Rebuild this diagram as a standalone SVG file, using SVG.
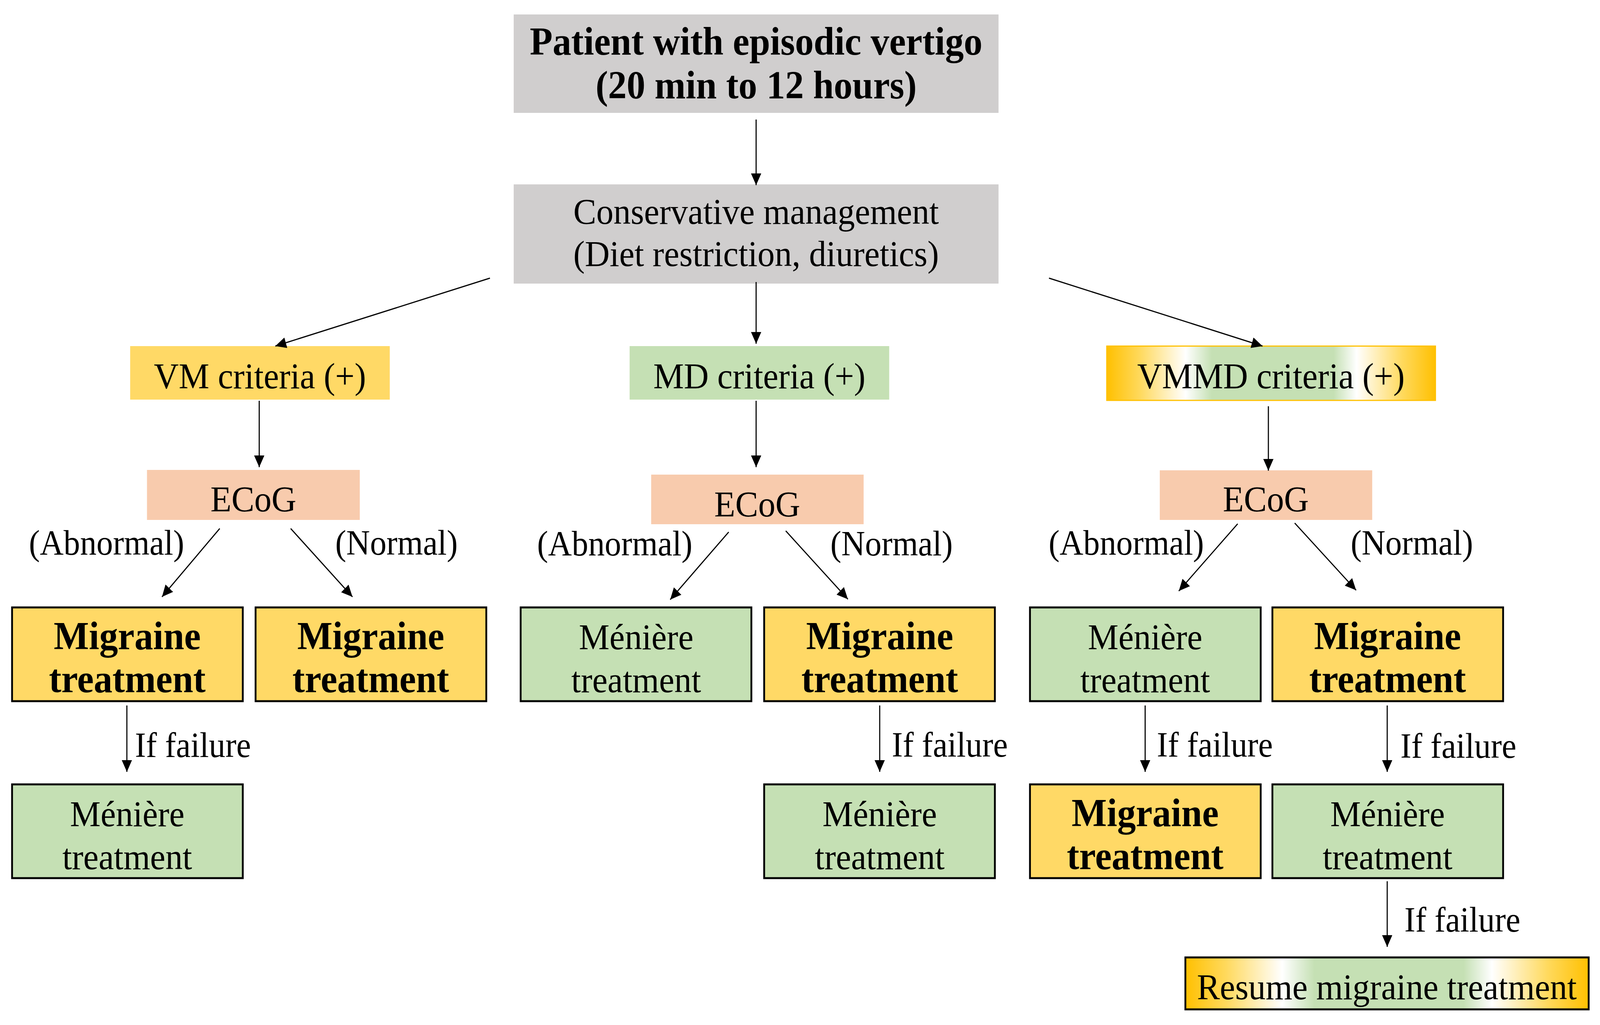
<svg xmlns="http://www.w3.org/2000/svg" width="4376" height="2624" viewBox="0 0 4376 2624" preserveAspectRatio="none">
<defs>
<style>
svg{width:100vw;height:100vh}
text{font-family:"Liberation Serif","Times New Roman",serif;fill:#000}
.n{font-size:94px;text-anchor:middle}
.b{font-size:102px;font-weight:bold;text-anchor:middle}
.l{font-size:90px}
.gray{fill:#d0cece}
.yel{fill:#ffd966}
.grn{fill:#c5e0b4}
.peach{fill:#f8cbad}
.bx{stroke:#000;stroke-width:5}
.c line{stroke:#000;stroke-width:3;marker-end:url(#ah)}
</style>
<marker id="ah" markerUnits="userSpaceOnUse" markerWidth="32" markerHeight="30" refX="30" refY="14" orient="auto">
<path d="M0,0 L30,14 L0,28 z" fill="#000"/>
</marker>
<linearGradient id="mix" x1="0" y1="0" x2="1" y2="0">
<stop offset="0" stop-color="#ffc000"/>
<stop offset="0.1" stop-color="#ffd95c"/>
<stop offset="0.24" stop-color="#ffffff"/>
<stop offset="0.32" stop-color="#c5e0b4"/>
<stop offset="0.69" stop-color="#c5e0b4"/>
<stop offset="0.76" stop-color="#ffffff"/>
<stop offset="0.9" stop-color="#ffd95c"/>
<stop offset="1" stop-color="#ffc000"/>
</linearGradient>
</defs>
<rect width="4376" height="2624" fill="#fff"/>

<g id="n-patient">
<rect class="gray" x="1405" y="37" width="1326" height="252"/>
<text class="b" x="2068" y="140">Patient with episodic vertigo</text>
<text class="b" x="2068" y="252">(20 min to 12 hours)</text>
</g>
<g id="n-conservative">
<rect class="gray" x="1405" y="472" width="1326" height="254"/>
<text class="n" x="2068" y="573">Conservative management</text>
<text class="n" x="2068" y="681">(Diet restriction, diuretics)</text>
</g>
<g id="n-vm">
<rect class="yel" x="356" y="886" width="710" height="137"/>
<text class="n" x="711" y="994">VM criteria (+)</text>
</g>
<g id="n-md">
<rect class="grn" x="1722" y="886" width="710" height="137"/>
<text class="n" x="2077" y="994">MD criteria (+)</text>
</g>
<g id="n-vmmd">
<rect x="3027" y="886" width="899" height="139" fill="url(#mix)" stroke="#ffc000" stroke-width="3"/>
<text class="n" x="3476" y="994">VMMD criteria (+)</text>
</g>
<g id="n-ecog-l">
<rect class="peach" x="402" y="1203" width="582" height="128"/>
<text class="n" x="693" y="1309">ECoG</text>
</g>
<g id="n-ecog-m">
<rect class="peach" x="1781" y="1215" width="581" height="127"/>
<text class="n" x="2071" y="1322">ECoG</text>
</g>
<g id="n-ecog-r">
<rect class="peach" x="3172" y="1204" width="581" height="127"/>
<text class="n" x="3462" y="1309">ECoG</text>
</g>

<g id="n-a1">
<rect class="yel bx" x="33" y="1555" width="631" height="240"/>
<text class="b" x="348" y="1662">Migraine</text>
<text class="b" x="348" y="1772">treatment</text>
</g>
<g id="n-b1">
<rect class="yel bx" x="699" y="1555" width="631" height="240"/>
<text class="b" x="1014" y="1662">Migraine</text>
<text class="b" x="1014" y="1772">treatment</text>
</g>
<g id="n-c1">
<rect class="grn bx" x="1424" y="1555" width="631" height="240"/>
<text class="n" x="1740" y="1662">Ménière</text>
<text class="n" x="1740" y="1772">treatment</text>
</g>
<g id="n-d1">
<rect class="yel bx" x="2090" y="1555" width="631" height="240"/>
<text class="b" x="2406" y="1662">Migraine</text>
<text class="b" x="2406" y="1772">treatment</text>
</g>
<g id="n-e1">
<rect class="grn bx" x="2817" y="1555" width="631" height="240"/>
<text class="n" x="3132" y="1662">Ménière</text>
<text class="n" x="3132" y="1772">treatment</text>
</g>
<g id="n-f1">
<rect class="yel bx" x="3480" y="1555" width="631" height="240"/>
<text class="b" x="3795" y="1662">Migraine</text>
<text class="b" x="3795" y="1772">treatment</text>
</g>

<g id="n-a2">
<rect class="grn bx" x="33" y="2008" width="631" height="240"/>
<text class="n" x="348" y="2115">Ménière</text>
<text class="n" x="348" y="2225">treatment</text>
</g>
<g id="n-d2">
<rect class="grn bx" x="2090" y="2008" width="631" height="240"/>
<text class="n" x="2406" y="2115">Ménière</text>
<text class="n" x="2406" y="2225">treatment</text>
</g>
<g id="n-e2">
<rect class="yel bx" x="2817" y="2008" width="631" height="240"/>
<text class="b" x="3132" y="2115">Migraine</text>
<text class="b" x="3132" y="2225">treatment</text>
</g>
<g id="n-f2">
<rect class="grn bx" x="3480" y="2008" width="631" height="240"/>
<text class="n" x="3795" y="2115">Ménière</text>
<text class="n" x="3795" y="2225">treatment</text>
</g>
<g id="n-resume">
<rect x="3242" y="2451" width="1103" height="133" fill="url(#mix)" stroke="#000" stroke-width="5"/>
<text class="n" x="3793" y="2558">Resume migraine treatment</text>
</g>

<g id="connectors" class="c">
<line x1="2068" y1="306" x2="2068" y2="474"/>
<line x1="1340" y1="712" x2="753" y2="886"/>
<line x1="2068" y1="722" x2="2068" y2="880"/>
<line x1="2869" y1="712" x2="3453" y2="886"/>
<line x1="709" y1="1026" x2="709" y2="1196"/>
<line x1="2068" y1="1026" x2="2068" y2="1196"/>
<line x1="3469" y1="1040" x2="3469" y2="1205"/>
<line x1="601" y1="1353" x2="443" y2="1528"/>
<line x1="795" y1="1353" x2="964" y2="1528"/>
<line x1="1993" y1="1362" x2="1833" y2="1535"/>
<line x1="2149" y1="1359" x2="2319" y2="1534"/>
<line x1="3385" y1="1341" x2="3224" y2="1513"/>
<line x1="3541" y1="1339" x2="3709" y2="1511"/>
<line x1="347" y1="1806" x2="347" y2="1976"/>
<line x1="2406" y1="1806" x2="2406" y2="1976"/>
<line x1="3132" y1="1806" x2="3132" y2="1976"/>
<line x1="3794" y1="1806" x2="3794" y2="1976"/>
<line x1="3794" y1="2256" x2="3794" y2="2424"/>
</g>

<g id="labels">
<text class="l" x="79" y="1420">(Abnormal)</text>
<text class="l" x="917" y="1420">(Normal)</text>
<text class="l" x="1469" y="1422">(Abnormal)</text>
<text class="l" x="2271" y="1422">(Normal)</text>
<text class="l" x="2868" y="1420">(Abnormal)</text>
<text class="l" x="3694" y="1420">(Normal)</text>
<text class="l" x="369" y="1938">If failure</text>
<text class="l" x="2439" y="1937">If failure</text>
<text class="l" x="3164" y="1937">If failure</text>
<text class="l" x="3830" y="1940">If failure</text>
<text class="l" x="3841" y="2385">If failure</text>
</g>
</svg>
